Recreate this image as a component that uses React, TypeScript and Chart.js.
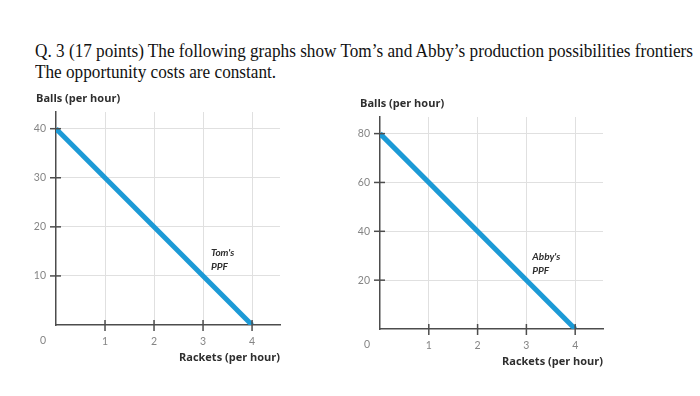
import React, { useEffect, useRef } from "react";
import { Chart, registerables } from "chart.js";

Chart.register(...registerables);

// ---- data ----
const rackets = [0, 4];
const tomBalls = [40, 0];
const abbyBalls = [80, 0];
const xTickValues = [1, 2, 3, 4];
const tomYTicks = [10, 20, 30, 40];
const abbyYTicks = [20, 40, 60, 80];
const xMax = 4.57;
const tomYMax = 43.4;
const abbyYMax = 86.8;
const tomLabel = ["Tom's", "PPF"];
const abbyLabel = ["Abby's", "PPF"];
const tomLabelAt = { x: 3.16, y: 14.8 };
const abbyLabelAt = { x: 3.12, y: 29.4 };
const yTitle = "Balls (per hour)";
const xTitle = "Rackets (per hour)";
const headerLine1 =
  "Q. 3 (17 points) The following graphs show Tom\u2019s and Abby\u2019s production possibilities frontiers";
const headerLine2 = "The opportunity costs are constant.";

const LINE_BLUE = "#1c9ad6";
const AXIS = "#4d4d4d";
const GRID = "#e0e0e0";
const TICK_TXT = "#858585";
const TITLE_TXT = "#2e2e2e";
const FONT = "Lato";
const TITLE_FONT = "'Open Sans'";

type PanelProps = {
  left: number;
  top: number;
  balls: number[];
  yTicks: number[];
  yMax: number;
  label: string[];
  labelAt: { x: number; y: number };
  padTop: number;
  padRight: number;
};

function Panel(p: PanelProps) {
  const ref = useRef<HTMLCanvasElement | null>(null);
  useEffect(() => {
    if (!ref.current) return;
    const overlay = {
      id: "overlay",
      afterDatasetsDraw(chart: any) {
        const ctx = chart.ctx as CanvasRenderingContext2D;
        const xs = chart.scales.x;
        const ys = chart.scales.y;
        const a = chart.chartArea;
        const x0 = xs.getPixelForValue(0);
        const y0 = ys.getPixelForValue(0);
        ctx.save();
        // tick marks crossing axes
        ctx.strokeStyle = AXIS;
        ctx.lineWidth = 1.5;
        xTickValues.forEach((v) => {
          const px = xs.getPixelForValue(v);
          ctx.beginPath();
          ctx.moveTo(px, y0 - 5);
          ctx.lineTo(px, y0 + 6);
          ctx.stroke();
        });
        p.yTicks.forEach((v) => {
          const py = ys.getPixelForValue(v);
          ctx.beginPath();
          ctx.moveTo(x0 - 6, py);
          ctx.lineTo(x0 + 5, py);
          ctx.stroke();
        });
        // origin label
        ctx.fillStyle = TICK_TXT;
        ctx.font = `10.5px ${FONT}`;
        ctx.textAlign = "center";
        ctx.textBaseline = "middle";
        ctx.fillText("0", x0 - 13, y0 + 16);
        // axis titles
        ctx.fillStyle = TITLE_TXT;
        ctx.font = `bold 11px ${TITLE_FONT}`;
        ctx.textAlign = "left";
        ctx.fillText(yTitle, a.left - 20, a.top - 13);
        ctx.textAlign = "right";
        ctx.fillText(xTitle, a.right, a.bottom + 33);
        // PPF label
        ctx.font = `italic bold 10px ${FONT}`;
        ctx.textAlign = "left";
        const lx = xs.getPixelForValue(p.labelAt.x);
        const ly = ys.getPixelForValue(p.labelAt.y);
        p.label.forEach((t, i) => ctx.fillText(t, lx, ly + i * 14));
        ctx.restore();
      },
    };
    const chart = new Chart(ref.current, {
      type: "scatter",
      data: {
        datasets: [
          {
            data: rackets.map((r, i) => ({ x: r, y: p.balls[i] })),
            showLine: true,
            borderColor: LINE_BLUE,
            borderWidth: 5,
            pointRadius: 0,
            borderCapStyle: "butt",
          },
        ],
      },
      options: {
        responsive: false,
        animation: false,
        devicePixelRatio: 1,
        layout: { padding: { top: p.padTop, right: p.padRight, left: 0, bottom: 0 } },
        plugins: { legend: { display: false }, tooltip: { enabled: false } },
        scales: {
          x: {
            type: "linear",
            min: 0,
            max: xMax,
            afterBuildTicks: (s: any) => {
              s.ticks = xTickValues.map((v) => ({ value: v }));
            },
            afterFit: (s: any) => {
              s.height = 60;
            },
            grid: { color: GRID, lineWidth: 1, drawTicks: false },
            border: { display: true, color: AXIS, width: 1.5 },
            ticks: {
              padding: 10,
              color: TICK_TXT,
              font: { family: FONT, size: 10.5 },
              maxRotation: 0,
              autoSkip: false,
            },
          },
          y: {
            type: "linear",
            min: 0,
            max: p.yMax,
            afterBuildTicks: (s: any) => {
              s.ticks = p.yTicks.map((v) => ({ value: v }));
            },
            afterFit: (s: any) => {
              s.width = 56;
            },
            grid: { color: GRID, lineWidth: 1, drawTicks: false },
            border: { display: true, color: AXIS, width: 1.5 },
            ticks: {
              padding: 10,
              color: TICK_TXT,
              font: { family: FONT, size: 10.5 },
              autoSkip: false,
            },
          },
        },
      } as any,
      plugins: [overlay],
    });
    return () => chart.destroy();
  }, []);
  return (
    <canvas
      ref={ref}
      width={330}
      height={300}
      style={{ position: "absolute", left: p.left, top: p.top, width: 330, height: 300 }}
    />
  );
}

export default function App() {
  const headerStyle: React.CSSProperties = {
    position: "absolute",
    left: 35,
    fontFamily: "'Liberation Serif', 'Times New Roman', serif",
    fontSize: 18,
    color: "#111",
    whiteSpace: "nowrap",
    transform: "scaleX(0.955)",
    transformOrigin: "left top",
    lineHeight: "20px",
  };
  return (
    <div
      style={{
        position: "absolute",
        left: 0,
        top: 0,
        width: 700,
        height: 396,
        background: "#fff",
        overflow: "hidden",
      }}
    >
      <div style={{ ...headerStyle, top: 41 }}>{headerLine1}</div>
      <div style={{ ...headerStyle, top: 62 }}>{headerLine2}</div>
      <Panel
        left={0}
        top={85}
        balls={tomBalls}
        yTicks={tomYTicks}
        yMax={tomYMax}
        label={tomLabel}
        labelAt={tomLabelAt}
        padTop={27}
        padRight={50}
      />
      <Panel
        left={324}
        top={89}
        balls={abbyBalls}
        yTicks={abbyYTicks}
        yMax={abbyYMax}
        label={abbyLabel}
        labelAt={abbyLabelAt}
        padTop={28}
        padRight={51}
      />
    </div>
  );
}
